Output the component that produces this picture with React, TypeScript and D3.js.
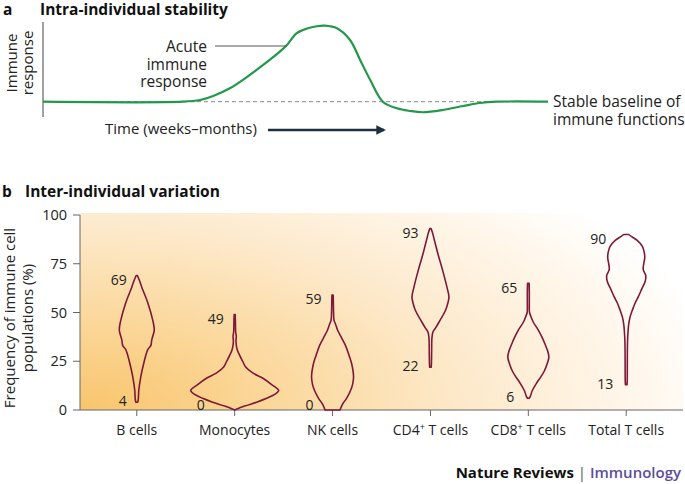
import React from "react";
import * as d3 from "d3";

// ---------- Panel a data ----------
const timePoints = [0, 27.7, 31.1, 33.7, 37.0, 40.3, 43.6, 46.9, 48.3, 50.2, 52.3, 54.2, 55.8, 58.2, 60.8, 62.8, 64.8, 67.3, 70.1, 72.7, 75.2, 79.2, 83.2, 86.5, 89.9, 100];
const responseValues = [0, 0, 2.2, 7.5, 17.6, 32.1, 48.3, 65.8, 74.6, 90, 96.3, 99.3, 100, 96.6, 81.2, 54.9, 28.6, 0, -8.7, -12.2, -13.9, -10.9, -5.7, -1.7, 0, 0];

// ---------- Panel b data ----------
const categories = ["B cells", "Monocytes", "NK cells", "CD4+ T cells", "CD8+ T cells", "Total T cells"];
const yTicks = [0, 25, 50, 75, 100];
const maxValues = [69, 49, 59, 93, 65, 90];
const minValues = [4, 0, 0, 22, 6, 13];

// [value, density] profiles
const bCells = [[69, 0.6], [66, 3], [63, 5], [55, 11], [46, 16], [41, 17.5], [36, 15], [33, 14], [31, 11], [24, 7], [17, 4], [10, 2], [6, 1.6], [4, 1]];
const monocytes = [[49, 0.5], [44, 0.8], [40, 1], [38, 1.6], [35, 1.3], [31, 2.5], [28, 5], [25, 8], [22, 11], [19, 18], [16, 29], [13, 37], [10, 44], [8, 40], [6, 32], [4, 22], [2, 10], [0, 0]];
const nkCells = [[59, 0.6], [55, 0.8], [50, 1], [46, 1.5], [44, 3], [41, 5], [37, 9], [33, 13], [28, 16.5], [24, 19], [17, 21], [13, 20], [10, 18], [6, 14], [3, 10], [0, 7.5]];
const cd4Cells = [[93, 0.6], [91, 2], [89, 3], [84, 5.5], [80, 7.5], [72, 12], [63, 16.5], [58, 18.5], [55, 17.5], [51, 15], [45, 8.5], [42, 5], [40, 2.5], [37, 1.5], [30, 1.2], [24, 1], [22, 0.8]];
const cd8Cells = [[65, 0.8], [60, 1], [55, 1], [50, 1.2], [48, 2.5], [45, 5], [41, 10], [37, 14], [34, 16.5], [30, 19.5], [27, 20.5], [24, 19], [20, 16], [17, 12.5], [14, 8.5], [10, 4], [7, 2], [6, 0.8]];
const totalTCells = [[90, 2.5], [89, 5], [87, 11], [84, 16], [81, 18], [78, 18.5], [75, 17.5], [72, 17], [69, 19.5], [66, 19], [62, 15.5], [58, 12], [55, 9], [51, 6], [48, 4], [44, 2.5], [40, 1.8], [35, 1.3], [25, 1.1], [15, 1], [13, 0.8]];
const violins = [bCells, monocytes, nkCells, cd4Cells, cd8Cells, totalTCells];

const FONT = "'Open Sans', 'DejaVu Sans', sans-serif";
const maxDx = [10, 11, 11, 12, 11, 20];
const minDx = [10, 30, 19, 12, 14, 13];

function CatLabel({ text }: { text: string }) {
  const i = text.indexOf("+");
  if (i < 0) return <>{text}</>;
  return (
    <>
      <tspan>{text.slice(0, i)}</tspan>
      <tspan dy={-5} fontSize={9}>+</tspan>
      <tspan dy={5}>{text.slice(i + 1)}</tspan>
    </>
  );
}

export default function App() {
  const W = 685, H = 484;

  // Panel a scales
  const xA = d3.scaleLinear().domain([0, 100]).range([43, 548]);
  const yA = d3.scaleLinear().domain([0, 100]).range([101.7, 25.7]);
  const responseLine = d3
    .line<number>()
    .x((_, i) => xA(timePoints[i]))
    .y((d) => yA(d))
    .curve(d3.curveCatmullRom.alpha(0.5));

  // Panel b scales
  const xB = d3.scalePoint<string>().domain(categories).range([80, 683]).padding(0.58);
  const yB = d3.scaleLinear().domain([0, 100]).range([410, 215]);
  const wB = d3.scaleLinear().domain([0, 44]).range([0, 44]);

  const violinPath = (data: number[][], cx: number) =>
    d3
      .area<number[]>()
      .y((d) => yB(d[0]))
      .x0((d) => cx - wB(d[1]))
      .x1((d) => cx + wB(d[1]))
      .curve(d3.curveCatmullRom.alpha(0.5))(data) || "";

  return (
    <svg width={W} height={H} style={{ position: "absolute", left: 0, top: 0, background: "#fff" }} fontFamily={FONT}>
      <defs>
        <radialGradient id="bg" gradientUnits="userSpaceOnUse" cx={0} cy={0} r={1} gradientTransform="translate(80,410) scale(660,310)">
          <stop offset="0" stopColor="#f8c56c" />
          <stop offset="0.3" stopColor="#fbd89c" />
          <stop offset="0.6" stopColor="#fdeacd" />
          <stop offset="0.85" stopColor="#fff7ec" />
          <stop offset="1" stopColor="#ffffff" />
        </radialGradient>
        <marker id="arrow" viewBox="0 0 10 10" refX={8} refY={5} markerWidth={4} markerHeight={4} orient="auto">
          <path d="M0,0 L10,5 L0,10 z" fill="#1e3040" />
        </marker>
      </defs>

      {/* ---------- Panel a ---------- */}
      <text x={3} y={15} fontSize={15.5} fontWeight={700} fill="#111">a</text>
      <text x={40} y={15} fontSize={15.5} fontWeight={700} fill="#111">Intra-individual stability</text>

      <text transform="translate(17,63) rotate(-90)" fontSize={15} fill="#222" textAnchor="middle">Immune</text>
      <text transform="translate(33,63) rotate(-90)" fontSize={15} fill="#222" textAnchor="middle">response</text>

      <line x1={43} x2={43} y1={22} y2={117} stroke="#444" strokeWidth={1} />
      <line x1={xA(0)} x2={xA(100) - 5} y1={yA(0)} y2={yA(0)} stroke="#888" strokeWidth={1} strokeDasharray="4 3" />
      <path d={responseLine(responseValues) || ""} fill="none" stroke="#22994a" strokeWidth={2.2} />

      <line x1={215} x2={287} y1={46} y2={46} stroke="#555" strokeWidth={1} />
      <text fontSize={15.5} fill="#222" textAnchor="end">
        <tspan x={207} y={52}>Acute</tspan>
        <tspan x={207} y={70}>immune</tspan>
        <tspan x={207} y={87}>response</tspan>
      </text>

      <text fontSize={15.5} fill="#222">
        <tspan x={553} y={107}>Stable baseline of</tspan>
        <tspan x={553} y={125}>immune functions</tspan>
      </text>

      <text x={105} y={134} fontSize={15} fill="#222">Time (weeks–months)</text>
      <line x1={268} x2={384} y1={130} y2={130} stroke="#1e3040" strokeWidth={2.4} markerEnd="url(#arrow)" />

      {/* ---------- Panel b ---------- */}
      <text x={2} y={197} fontSize={15.5} fontWeight={700} fill="#111">b</text>
      <text x={25} y={197} fontSize={15.5} fontWeight={700} fill="#111">Inter-individual variation</text>

      <rect x={80} y={213} width={603} height={197} fill="url(#bg)" />

      <text transform="translate(15,318) rotate(-90)" fontSize={15} fill="#222" textAnchor="middle">Frequency of immune cell</text>
      <text transform="translate(33,318) rotate(-90)" fontSize={15} fill="#222" textAnchor="middle">populations (%)</text>

      {/* y axis */}
      <line x1={80} x2={80} y1={yB(100)} y2={yB(0)} stroke="#666" strokeWidth={1} />
      {yTicks.map((t) => (
        <g key={t}>
          <line x1={73} x2={80} y1={yB(t)} y2={yB(t)} stroke="#666" strokeWidth={1} />
          <text x={67} y={yB(t)} dy="0.35em" fontSize={14.5} fill="#222" textAnchor="end">{t}</text>
        </g>
      ))}

      {/* x axis */}
      <line x1={80} x2={683} y1={yB(0)} y2={yB(0)} stroke="#666" strokeWidth={1} />
      {categories.map((c) => (
        <g key={c}>
          <line x1={xB(c)} x2={xB(c)} y1={410} y2={416} stroke="#666" strokeWidth={1} />
          <text x={xB(c)} y={435} fontSize={14} fill="#222" textAnchor="middle">
            <CatLabel text={c} />
          </text>
        </g>
      ))}

      {/* violins */}
      {violins.map((v, i) => {
        const cx = xB(categories[i]) as number;
        return (
          <g key={i}>
            <path d={violinPath(v, cx)} fill="none" stroke="#7d1838" strokeWidth={1.6} strokeLinejoin="round" />
            <text x={cx - maxDx[i]} y={yB(maxValues[i]) + 4.5} dy="0.35em" fontSize={14} fill="#222" textAnchor="end">{maxValues[i]}</text>
            <text x={cx - minDx[i]} y={Math.min(yB(minValues[i]) - 1, 405)} dy="0.35em" fontSize={14} fill="#222" textAnchor="end">{minValues[i]}</text>
          </g>
        );
      })}

      {/* footer */}
      <text x={681} y={478} fontSize={15} textAnchor="end">
        <tspan fontWeight={700} fill="#111">Nature Reviews</tspan>
        <tspan fill="#555"> | </tspan>
        <tspan fontWeight={600} fill="#5b4e9b">Immunology</tspan>
      </text>
    </svg>
  );
}
